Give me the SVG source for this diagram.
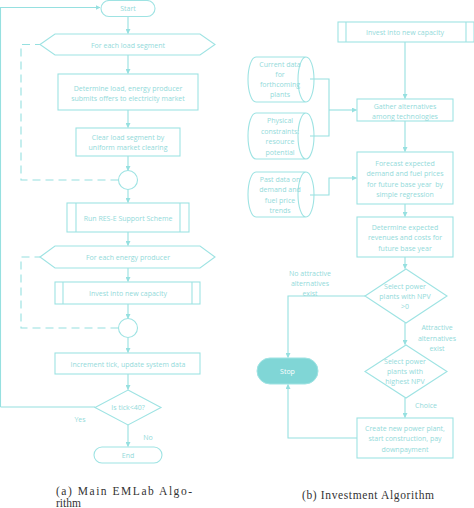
<svg xmlns="http://www.w3.org/2000/svg" width="474" height="508" viewBox="0 0 474 508">
<defs>
<marker id="ah" viewBox="0 0 10 10" refX="9" refY="5" markerWidth="5" markerHeight="5" orient="auto" markerUnits="userSpaceOnUse">
<path d="M0,0 L10,5 L0,10 Z" fill="#96e0e0"/>
</marker>
<style>
.s{fill:none;stroke:#9ee3e3;stroke-width:1.1}
.c{fill:none;stroke:#96e0e0;stroke-width:1.1}
.d{fill:none;stroke:#96e0e0;stroke-width:1.1;stroke-dasharray:8,5}
.t{font-family:"Open Sans","Noto Sans",sans-serif;font-size:7px;fill:#93dada;text-anchor:middle;dominant-baseline:central}
.cap{font-family:"Liberation Serif","DejaVu Serif",serif;font-size:11.5px;fill:#333}
</style>
</defs>
<rect width="474" height="508" fill="#fff"/>

<g id="connectors">
<!-- left -->
<path class="c" d="M0.5,407 V7.5 H100" marker-end="url(#ah)"/>
<path class="c" d="M128,16 V33.5" marker-end="url(#ah)"/>
<path class="c" d="M128,55 V73.5" marker-end="url(#ah)"/>
<path class="c" d="M128,110 V127.5" marker-end="url(#ah)"/>
<path class="c" d="M128,156 V170.5" marker-end="url(#ah)"/>
<path class="c" d="M128,189.5 V202.5" marker-end="url(#ah)"/>
<path class="c" d="M128,232 V245.5" marker-end="url(#ah)"/>
<path class="c" d="M128,268 V281.5" marker-end="url(#ah)"/>
<path class="c" d="M128,304 V318.5" marker-end="url(#ah)"/>
<path class="c" d="M128,337.5 V352.5" marker-end="url(#ah)"/>
<path class="c" d="M128,374 V389.5" marker-end="url(#ah)"/>
<path class="c" d="M128,425 V446.5" marker-end="url(#ah)"/>
<path class="c" d="M95,407 H0.5"/>
<path class="d" d="M118.5,180 H21 V44.5 H40"/>
<path class="d" d="M118.5,328 H21 V257 H40"/>
<!-- right -->
<path class="c" d="M405,42 V98.5" marker-end="url(#ah)"/>
<path class="c" d="M405,121 V151.5" marker-end="url(#ah)"/>
<path class="c" d="M405,204 V216.5" marker-end="url(#ah)"/>
<path class="c" d="M405,257 V268.5" marker-end="url(#ah)"/>
<path class="c" d="M405,323 V344.5" marker-end="url(#ah)"/>
<path class="c" d="M405,398 V417.5" marker-end="url(#ah)"/>
<path class="c" d="M310,79 H329 V136 H310"/>
<path class="c" d="M329,110 H356.5" marker-end="url(#ah)"/>
<path class="c" d="M310,195 H329 V178 H356.5" marker-end="url(#ah)"/>
<path class="c" d="M365,296 H288 V357.5" marker-end="url(#ah)"/>
<path class="c" d="M357,438 H288 V384.5" marker-end="url(#ah)"/>
</g>

<!-- left nodes -->
<g id="start"><rect class="s" x="101" y="0.5" width="54" height="16" rx="8"/><text class="t" x="128" y="8.5">Start</text></g>
<g id="loop-load"><path class="s" d="M40,44.5 L55,34 H200 L215,44.5 L200,55 H55 Z"/><text class="t" x="128" y="45">For each load segment</text></g>
<g id="determine-load"><rect class="s" x="58" y="74" width="140" height="36"/><text class="t" x="128" y="88">Determine load, energy producer</text><text class="t" x="128" y="98">submits offers to electricity market</text></g>
<g id="clear"><rect class="s" x="76" y="128" width="104" height="28"/><text class="t" x="128" y="137">Clear load segment by</text><text class="t" x="128" y="147">uniform market clearing</text></g>
<g id="join1"><circle class="s" cx="128" cy="180" r="9.5"/></g>
<g id="res-e"><rect class="s" x="67" y="203" width="122" height="29"/><path class="s" d="M76,203 V232 M180,203 V232"/><text class="t" x="128" y="218">Run RES-E Support Scheme</text></g>
<g id="loop-producer"><path class="s" d="M40,257 L55,246 H200 L215,257 L200,268 H55 Z"/><text class="t" x="128" y="257.5">For each energy producer</text></g>
<g id="invest-left"><rect class="s" x="55" y="282" width="145" height="22"/><path class="s" d="M63,282 V304 M192,282 V304"/><text class="t" x="128" y="293.5">Invest into new capacity</text></g>
<g id="join2"><circle class="s" cx="128" cy="328" r="9.5"/></g>
<g id="increment"><rect class="s" x="55" y="353" width="145" height="21"/><text class="t" x="128" y="364">Increment tick, update system data</text></g>
<g id="tick"><path class="s" d="M128,390 L161,407.5 L128,425 L95,407.5 Z"/><text class="t" x="128" y="407.5">Is tick&lt;40?</text></g>
<text class="t" x="80" y="419.5">Yes</text>
<text class="t" x="148" y="437">No</text>
<g id="end"><rect class="s" x="94" y="447" width="68" height="16" rx="8"/><text class="t" x="128" y="455.5">End</text></g>

<!-- right nodes -->
<g id="invest-right"><rect class="s" x="338" y="22" width="136" height="20"/><path class="s" d="M346,22 V42 M466,22 V42"/><text class="t" x="405" y="32.5">Invest into new capacity</text></g>
<g id="cyl1"><path class="s" d="M256,57 H306 A8,22.5 0 0 1 306,102 H256 A8,22.5 0 0 1 256,57 Z M306,57 A8,22.5 0 0 0 306,102"/><text class="t" x="280" y="64">Current data</text><text class="t" x="280" y="74">for</text><text class="t" x="280" y="84">forthcoming</text><text class="t" x="280" y="94">plants</text></g>
<g id="cyl2"><path class="s" d="M256,113 H306 A8,23 0 0 1 306,159 H256 A8,23 0 0 1 256,113 Z M306,113 A8,23 0 0 0 306,159"/><text class="t" x="280" y="120.5">Physical</text><text class="t" x="280" y="131">constraints:</text><text class="t" x="280" y="141.5">resource</text><text class="t" x="280" y="152">potential</text></g>
<g id="cyl3"><path class="s" d="M256,172 H306 A8,22.5 0 0 1 306,217 H256 A8,22.5 0 0 1 256,172 Z M306,172 A8,22.5 0 0 0 306,217"/><text class="t" x="280" y="179">Past data on</text><text class="t" x="280" y="189.5">demand and</text><text class="t" x="280" y="200">fuel price</text><text class="t" x="280" y="210">trends</text></g>
<g id="gather"><rect class="s" x="357" y="99" width="96" height="22"/><text class="t" x="405" y="106">Gather alternatives</text><text class="t" x="405" y="116">among technologies</text></g>
<g id="forecast"><rect class="s" x="357" y="152" width="96" height="52"/><text class="t" x="405" y="163">Forecast expected</text><text class="t" x="405" y="173.5">demand and fuel prices</text><text class="t" x="405" y="184" xml:space="preserve">for future base year  by</text><text class="t" x="405" y="194">simple regression</text></g>
<g id="determine-exp"><rect class="s" x="357" y="217" width="96" height="40"/><text class="t" x="405" y="227">Determine expected</text><text class="t" x="405" y="237.5">revenues and costs for</text><text class="t" x="405" y="248">future base year</text></g>
<g id="npv"><path class="s" d="M406,269 L447,296 L406,323 L365,296 Z"/><text class="t" x="405" y="286.5">Select power</text><text class="t" x="405" y="296.5">plants with NPV</text><text class="t" x="405" y="306.5">&gt;0</text></g>
<text class="t" x="310" y="273">No attractive</text>
<text class="t" x="310" y="283">alternatives</text>
<text class="t" x="310" y="293">exist</text>
<text class="t" x="437" y="327.5">Attractive</text>
<text class="t" x="437" y="338">alternatives</text>
<text class="t" x="437" y="348">exist</text>
<g id="highest"><path class="s" d="M406,345 L447,371.5 L406,398 L365,371.5 Z"/><text class="t" x="405" y="361">Select power</text><text class="t" x="405" y="371">plants with</text><text class="t" x="405" y="381">highest NPV</text></g>
<text class="t" x="426" y="405">Choice</text>
<g id="create"><rect class="s" x="357" y="418" width="96" height="40"/><text class="t" x="405" y="428">Create new power plant,</text><text class="t" x="405" y="438.5">start construction, pay</text><text class="t" x="405" y="449">downpayment</text></g>
<g id="stop"><rect x="257" y="358" width="61" height="26" rx="13" fill="#80d6d6" stroke="#9ee3e3" stroke-width="1"/><text class="t" x="287.5" y="371.5" style="fill:#fff">Stop</text></g>

<!-- captions -->
<text class="cap" x="56" y="494.5" textLength="136" lengthAdjust="spacing">(a) Main EMLab Algo-</text>
<text class="cap" x="56" y="507">rithm</text>
<text class="cap" x="302" y="499" textLength="132" lengthAdjust="spacing">(b) Investment Algorithm</text>
</svg>
